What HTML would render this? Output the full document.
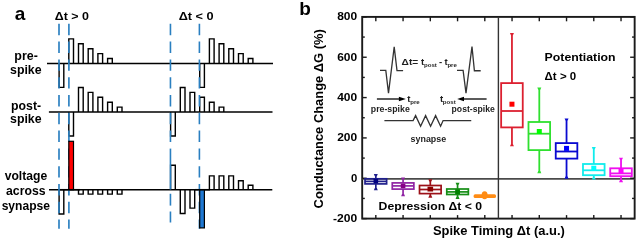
<!DOCTYPE html><html><head><meta charset="utf-8"><style>html,body{margin:0;padding:0;background:#fff;width:637px;height:239px;overflow:hidden}svg{display:block;will-change:transform}text{font-family:"Liberation Sans",sans-serif;font-weight:bold}</style></head><body>
<svg width="637" height="239" viewBox="0 0 637 239">
<text x="14.7" y="19.6" font-size="19" fill="#000" text-anchor="start" >a</text>
<text x="54.8" y="20.25" font-size="11.5" fill="#000" text-anchor="start" textLength="34.2" lengthAdjust="spacingAndGlyphs" >Δt &gt; 0</text>
<text x="178.7" y="19.8" font-size="11.5" fill="#000" text-anchor="start" textLength="35.0" lengthAdjust="spacingAndGlyphs" >Δt &lt; 0</text>
<text x="26.1" y="59.8" font-size="12" fill="#000" text-anchor="middle" textLength="23.5" lengthAdjust="spacingAndGlyphs">pre-</text>
<text x="25.8" y="73.5" font-size="12" fill="#000" text-anchor="middle" textLength="31.5" lengthAdjust="spacingAndGlyphs">spike</text>
<text x="26.1" y="109.8" font-size="12" fill="#000" text-anchor="middle" textLength="30.0" lengthAdjust="spacingAndGlyphs">post-</text>
<text x="25.8" y="122.7" font-size="12" fill="#000" text-anchor="middle" textLength="31.5" lengthAdjust="spacingAndGlyphs">spike</text>
<text x="25.9" y="180.1" font-size="12" fill="#000" text-anchor="middle" textLength="42.5" lengthAdjust="spacingAndGlyphs">voltage</text>
<text x="25.8" y="195.2" font-size="12" fill="#000" text-anchor="middle" textLength="39.5" lengthAdjust="spacingAndGlyphs">across</text>
<text x="25.8" y="209.5" font-size="12" fill="#000" text-anchor="middle" textLength="48.3" lengthAdjust="spacingAndGlyphs">synapse</text>
<path d="M59.10,63.4 V87.40 H63.80 V63.4" fill="none" stroke="#000" stroke-width="1.4"/>
<path d="M68.80,63.4 V38.90 H73.50 V63.4" fill="none" stroke="#000" stroke-width="1.4"/>
<path d="M78.50,63.4 V43.80 H83.20 V63.4" fill="none" stroke="#000" stroke-width="1.4"/>
<path d="M88.20,63.4 V48.70 H92.90 V63.4" fill="none" stroke="#000" stroke-width="1.4"/>
<path d="M97.90,63.4 V53.60 H102.60 V63.4" fill="none" stroke="#000" stroke-width="1.4"/>
<path d="M107.60,63.4 V58.50 H112.30 V63.4" fill="none" stroke="#000" stroke-width="1.4"/>
<path d="M68.80,112.0 V136.00 H73.50 V112.0" fill="none" stroke="#000" stroke-width="1.4"/>
<path d="M78.50,112.0 V87.50 H83.20 V112.0" fill="none" stroke="#000" stroke-width="1.4"/>
<path d="M88.20,112.0 V92.40 H92.90 V112.0" fill="none" stroke="#000" stroke-width="1.4"/>
<path d="M97.90,112.0 V97.30 H102.60 V112.0" fill="none" stroke="#000" stroke-width="1.4"/>
<path d="M107.60,112.0 V102.20 H112.30 V112.0" fill="none" stroke="#000" stroke-width="1.4"/>
<path d="M117.30,112.0 V107.10 H122.00 V112.0" fill="none" stroke="#000" stroke-width="1.4"/>
<path d="M199.70,63.4 V87.40 H204.40 V63.4" fill="none" stroke="#000" stroke-width="1.4"/>
<path d="M209.40,63.4 V38.90 H214.10 V63.4" fill="none" stroke="#000" stroke-width="1.4"/>
<path d="M219.10,63.4 V43.80 H223.80 V63.4" fill="none" stroke="#000" stroke-width="1.4"/>
<path d="M228.80,63.4 V48.70 H233.50 V63.4" fill="none" stroke="#000" stroke-width="1.4"/>
<path d="M238.50,63.4 V53.60 H243.20 V63.4" fill="none" stroke="#000" stroke-width="1.4"/>
<path d="M248.20,63.4 V58.50 H252.90 V63.4" fill="none" stroke="#000" stroke-width="1.4"/>
<path d="M170.60,112.0 V136.00 H175.30 V112.0" fill="none" stroke="#000" stroke-width="1.4"/>
<path d="M180.30,112.0 V87.50 H185.00 V112.0" fill="none" stroke="#000" stroke-width="1.4"/>
<path d="M190.00,112.0 V92.40 H194.70 V112.0" fill="none" stroke="#000" stroke-width="1.4"/>
<path d="M199.70,112.0 V97.30 H204.40 V112.0" fill="none" stroke="#000" stroke-width="1.4"/>
<path d="M209.40,112.0 V102.20 H214.10 V112.0" fill="none" stroke="#000" stroke-width="1.4"/>
<path d="M219.10,112.0 V107.10 H223.80 V112.0" fill="none" stroke="#000" stroke-width="1.4"/>
<path d="M59.10,189.7 V214.00 H63.80 V189.7" fill="none" stroke="#000" stroke-width="1.4"/>
<path d="M78.50,189.7 V194.10 H83.20 V189.7" fill="none" stroke="#000" stroke-width="1.4"/>
<path d="M88.20,189.7 V194.10 H92.90 V189.7" fill="none" stroke="#000" stroke-width="1.4"/>
<path d="M97.90,189.7 V194.10 H102.60 V189.7" fill="none" stroke="#000" stroke-width="1.4"/>
<path d="M107.60,189.7 V194.10 H112.30 V189.7" fill="none" stroke="#000" stroke-width="1.4"/>
<path d="M117.30,189.7 V194.10 H122.00 V189.7" fill="none" stroke="#000" stroke-width="1.4"/>
<path d="M170.60,189.7 V165.20 H175.30 V189.7" fill="none" stroke="#000" stroke-width="1.4"/>
<path d="M180.30,189.7 V213.50 H185.00 V189.7" fill="none" stroke="#000" stroke-width="1.4"/>
<path d="M190.00,189.7 V208.10 H194.70 V189.7" fill="none" stroke="#000" stroke-width="1.4"/>
<path d="M209.40,189.7 V175.90 H214.10 V189.7" fill="none" stroke="#000" stroke-width="1.4"/>
<path d="M219.10,189.7 V175.90 H223.80 V189.7" fill="none" stroke="#000" stroke-width="1.4"/>
<path d="M228.80,189.7 V175.90 H233.50 V189.7" fill="none" stroke="#000" stroke-width="1.4"/>
<path d="M238.50,189.7 V180.70 H243.20 V189.7" fill="none" stroke="#000" stroke-width="1.4"/>
<path d="M248.20,189.7 V185.30 H252.90 V189.7" fill="none" stroke="#000" stroke-width="1.4"/>
<line x1="47" y1="63.4" x2="273" y2="63.4" stroke="#000" stroke-width="1.5"/>
<line x1="48.9" y1="112.0" x2="272.5" y2="112.0" stroke="#000" stroke-width="1.5"/>
<line x1="49" y1="189.7" x2="272.3" y2="189.7" stroke="#000" stroke-width="1.5"/>
<line x1="59.0" y1="23.8" x2="59.0" y2="228.8" stroke="#2a7fc0" stroke-width="1.65" stroke-dasharray="11.4 6.4"/>
<line x1="68.9" y1="23.8" x2="68.9" y2="228.8" stroke="#2a7fc0" stroke-width="1.65" stroke-dasharray="11.4 6.4"/>
<line x1="199.4" y1="23.8" x2="199.4" y2="228.8" stroke="#2a7fc0" stroke-width="1.6" stroke-dasharray="11.4 6.4"/>
<line x1="170.45" y1="23.8" x2="170.45" y2="148.8" stroke="#2a7fc0" stroke-width="1.6" stroke-dasharray="11.4 6.4"/>
<line x1="170.45" y1="148.8" x2="170.45" y2="189.5" stroke="#2a7fc0" stroke-width="1.6"/>
<line x1="170.45" y1="193.75" x2="170.45" y2="205.6" stroke="#2a7fc0" stroke-width="1.6"/>
<line x1="170.45" y1="211.5" x2="170.45" y2="222.5" stroke="#2a7fc0" stroke-width="1.6"/>
<rect x="68.80" y="141.30" width="4.70" height="48.40" fill="#ff0000" stroke="#000" stroke-width="1.2"/>
<rect x="199.70" y="189.70" width="4.70" height="38.20" fill="#1f78d2" stroke="#000" stroke-width="1.2"/>
<line x1="60" y1="189.7" x2="80" y2="189.7" stroke="#000" stroke-width="1.5"/>
<line x1="195" y1="189.7" x2="210" y2="189.7" stroke="#000" stroke-width="1.5"/>
<text x="299.2" y="14.8" font-size="19" fill="#000" text-anchor="start" >b</text>
<text x="357.2" y="20.4" font-size="11.6" fill="#000" text-anchor="end" textLength="20.0" lengthAdjust="spacingAndGlyphs" >800</text>
<text x="357.2" y="60.74" font-size="11.6" fill="#000" text-anchor="end" textLength="20.0" lengthAdjust="spacingAndGlyphs" >600</text>
<text x="357.2" y="101.08000000000001" font-size="11.6" fill="#000" text-anchor="end" textLength="20.0" lengthAdjust="spacingAndGlyphs" >400</text>
<text x="357.2" y="141.42" font-size="11.6" fill="#000" text-anchor="end" textLength="20.0" lengthAdjust="spacingAndGlyphs" >200</text>
<text x="357.2" y="181.76000000000002" font-size="11.6" fill="#000" text-anchor="end" textLength="6.3" lengthAdjust="spacingAndGlyphs" >0</text>
<text x="357.2" y="222.1" font-size="11.6" fill="#000" text-anchor="end" textLength="24.2" lengthAdjust="spacingAndGlyphs" >-200</text>
<text transform="translate(322.8,118.85) rotate(-90)" x="0" y="0" font-size="13" text-anchor="middle" textLength="179.2" lengthAdjust="spacingAndGlyphs">Conductance Change ΔG (%)</text>
<text x="433.0" y="235.1" font-size="13" fill="#000" text-anchor="start" textLength="131.8" lengthAdjust="spacingAndGlyphs" >Spike Timing Δt (a.u.)</text>
<text x="378.6" y="210.1" font-size="11.2" fill="#000" text-anchor="start" textLength="103.5" lengthAdjust="spacingAndGlyphs" >Depression Δt &lt; 0</text>
<text x="544.6" y="60.7" font-size="11.4" fill="#000" text-anchor="start" textLength="71" lengthAdjust="spacingAndGlyphs" >Potentiation</text>
<text x="544.6" y="80.1" font-size="10.9" fill="#000" text-anchor="start" textLength="31.6" lengthAdjust="spacingAndGlyphs" >Δt &gt; 0</text>
<rect x="362.2" y="16.9" width="272.45" height="201.7" fill="none" stroke="#1a1a1a" stroke-width="1.9"/>
<line x1="362.2" y1="178.9" x2="634.65" y2="178.9" stroke="#4a4a4a" stroke-width="1.6"/>
<line x1="498.4" y1="16.9" x2="498.4" y2="218.6" stroke="#333" stroke-width="1.4"/>
<line x1="375.82" y1="16.9" x2="375.82" y2="21.299999999999997" stroke="#1a1a1a" stroke-width="1.4"/>
<line x1="375.82" y1="218.6" x2="375.82" y2="215.1" stroke="#1a1a1a" stroke-width="1.4"/>
<line x1="403.07" y1="16.9" x2="403.07" y2="21.299999999999997" stroke="#1a1a1a" stroke-width="1.4"/>
<line x1="403.07" y1="218.6" x2="403.07" y2="215.1" stroke="#1a1a1a" stroke-width="1.4"/>
<line x1="430.31" y1="16.9" x2="430.31" y2="21.299999999999997" stroke="#1a1a1a" stroke-width="1.4"/>
<line x1="430.31" y1="218.6" x2="430.31" y2="215.1" stroke="#1a1a1a" stroke-width="1.4"/>
<line x1="457.56" y1="16.9" x2="457.56" y2="21.299999999999997" stroke="#1a1a1a" stroke-width="1.4"/>
<line x1="457.56" y1="218.6" x2="457.56" y2="215.1" stroke="#1a1a1a" stroke-width="1.4"/>
<line x1="484.80" y1="16.9" x2="484.80" y2="21.299999999999997" stroke="#1a1a1a" stroke-width="1.4"/>
<line x1="484.80" y1="218.6" x2="484.80" y2="215.1" stroke="#1a1a1a" stroke-width="1.4"/>
<line x1="512.05" y1="16.9" x2="512.05" y2="21.299999999999997" stroke="#1a1a1a" stroke-width="1.4"/>
<line x1="512.05" y1="218.6" x2="512.05" y2="215.1" stroke="#1a1a1a" stroke-width="1.4"/>
<line x1="539.29" y1="16.9" x2="539.29" y2="21.299999999999997" stroke="#1a1a1a" stroke-width="1.4"/>
<line x1="539.29" y1="218.6" x2="539.29" y2="215.1" stroke="#1a1a1a" stroke-width="1.4"/>
<line x1="566.54" y1="16.9" x2="566.54" y2="21.299999999999997" stroke="#1a1a1a" stroke-width="1.4"/>
<line x1="566.54" y1="218.6" x2="566.54" y2="215.1" stroke="#1a1a1a" stroke-width="1.4"/>
<line x1="593.78" y1="16.9" x2="593.78" y2="21.299999999999997" stroke="#1a1a1a" stroke-width="1.4"/>
<line x1="593.78" y1="218.6" x2="593.78" y2="215.1" stroke="#1a1a1a" stroke-width="1.4"/>
<line x1="621.03" y1="16.9" x2="621.03" y2="21.299999999999997" stroke="#1a1a1a" stroke-width="1.4"/>
<line x1="621.03" y1="218.6" x2="621.03" y2="215.1" stroke="#1a1a1a" stroke-width="1.4"/>
<line x1="362.2" y1="218.60" x2="366.7" y2="218.60" stroke="#1a1a1a" stroke-width="1.4"/>
<line x1="634.65" y1="218.60" x2="630.15" y2="218.60" stroke="#1a1a1a" stroke-width="1.4"/>
<line x1="362.2" y1="198.43" x2="364.8" y2="198.43" stroke="#1a1a1a" stroke-width="1.4"/>
<line x1="634.65" y1="198.43" x2="632.05" y2="198.43" stroke="#1a1a1a" stroke-width="1.4"/>
<line x1="362.2" y1="178.26" x2="366.7" y2="178.26" stroke="#1a1a1a" stroke-width="1.4"/>
<line x1="634.65" y1="178.26" x2="630.15" y2="178.26" stroke="#1a1a1a" stroke-width="1.4"/>
<line x1="362.2" y1="158.09" x2="364.8" y2="158.09" stroke="#1a1a1a" stroke-width="1.4"/>
<line x1="634.65" y1="158.09" x2="632.05" y2="158.09" stroke="#1a1a1a" stroke-width="1.4"/>
<line x1="362.2" y1="137.92" x2="366.7" y2="137.92" stroke="#1a1a1a" stroke-width="1.4"/>
<line x1="634.65" y1="137.92" x2="630.15" y2="137.92" stroke="#1a1a1a" stroke-width="1.4"/>
<line x1="362.2" y1="117.75" x2="364.8" y2="117.75" stroke="#1a1a1a" stroke-width="1.4"/>
<line x1="634.65" y1="117.75" x2="632.05" y2="117.75" stroke="#1a1a1a" stroke-width="1.4"/>
<line x1="362.2" y1="97.58" x2="366.7" y2="97.58" stroke="#1a1a1a" stroke-width="1.4"/>
<line x1="634.65" y1="97.58" x2="630.15" y2="97.58" stroke="#1a1a1a" stroke-width="1.4"/>
<line x1="362.2" y1="77.41" x2="364.8" y2="77.41" stroke="#1a1a1a" stroke-width="1.4"/>
<line x1="634.65" y1="77.41" x2="632.05" y2="77.41" stroke="#1a1a1a" stroke-width="1.4"/>
<line x1="362.2" y1="57.24" x2="366.7" y2="57.24" stroke="#1a1a1a" stroke-width="1.4"/>
<line x1="634.65" y1="57.24" x2="630.15" y2="57.24" stroke="#1a1a1a" stroke-width="1.4"/>
<line x1="362.2" y1="37.07" x2="364.8" y2="37.07" stroke="#1a1a1a" stroke-width="1.4"/>
<line x1="634.65" y1="37.07" x2="632.05" y2="37.07" stroke="#1a1a1a" stroke-width="1.4"/>
<line x1="362.2" y1="16.90" x2="366.7" y2="16.90" stroke="#1a1a1a" stroke-width="1.4"/>
<line x1="634.65" y1="16.90" x2="630.15" y2="16.90" stroke="#1a1a1a" stroke-width="1.4"/>
<g stroke="#dc2030" stroke-width="1.8" fill="none">
<line x1="511.9475" y1="33.8" x2="511.9475" y2="83.1"/>
<line x1="511.9475" y1="127.4" x2="511.9475" y2="145.6"/>
<rect x="501.1475" y="83.1" width="21.6" height="44.30000000000001"/>
<line x1="501.1475" y1="111.0" x2="522.7475" y2="111.0"/>
</g>
<path d="M509.9475,33.099999999999994 H513.9475 L512.9475,35.199999999999996 H510.9475 Z" fill="#dc2030"/>
<path d="M509.9475,146.29999999999998 H513.9475 L512.9475,144.2 H510.9475 Z" fill="#dc2030"/>
<rect x="509.4475" y="101.7" width="5.0" height="5.0" fill="#ff0000"/>
<g stroke="#30e030" stroke-width="1.8" fill="none">
<line x1="539.2925" y1="88.3" x2="539.2925" y2="122.0"/>
<line x1="539.2925" y1="150.1" x2="539.2925" y2="172.5"/>
<rect x="528.4925000000001" y="122.0" width="21.6" height="28.099999999999994"/>
<line x1="528.4925000000001" y1="133.7" x2="550.0925" y2="133.7"/>
</g>
<path d="M537.2925,87.6 H541.2925 L540.2925,89.7 H538.2925 Z" fill="#30e030"/>
<path d="M537.2925,173.2 H541.2925 L540.2925,171.1 H538.2925 Z" fill="#30e030"/>
<rect x="536.7925" y="129.0" width="5.0" height="5.0" fill="#00ff00"/>
<g stroke="#0a0ad0" stroke-width="1.8" fill="none">
<line x1="566.5374999999999" y1="119.2" x2="566.5374999999999" y2="143.1"/>
<line x1="566.5374999999999" y1="158.6" x2="566.5374999999999" y2="178.0"/>
<rect x="555.7375" y="143.1" width="21.6" height="15.5"/>
<line x1="555.7375" y1="151.5" x2="577.3374999999999" y2="151.5"/>
</g>
<path d="M564.5374999999999,118.5 H568.5374999999999 L567.5374999999999,120.60000000000001 H565.5374999999999 Z" fill="#0a0ad0"/>
<path d="M564.5374999999999,178.7 H568.5374999999999 L567.5374999999999,176.6 H565.5374999999999 Z" fill="#0a0ad0"/>
<rect x="564.0374999999999" y="145.9" width="5.0" height="5.0" fill="#0000ff"/>
<g stroke="#10ecec" stroke-width="1.8" fill="none">
<line x1="593.7825" y1="147.8" x2="593.7825" y2="164.0"/>
<line x1="593.7825" y1="175.2" x2="593.7825" y2="178.8"/>
<rect x="582.9825000000001" y="164.0" width="21.6" height="11.199999999999989"/>
<line x1="582.9825000000001" y1="170.3" x2="604.5825" y2="170.3"/>
</g>
<path d="M591.7825,147.10000000000002 H595.7825 L594.7825,149.20000000000002 H592.7825 Z" fill="#10ecec"/>
<path d="M591.7825,179.5 H595.7825 L594.7825,177.4 H592.7825 Z" fill="#10ecec"/>
<rect x="591.2825" y="165.7" width="5.0" height="5.0" fill="#00ffff"/>
<g stroke="#ee10ee" stroke-width="1.8" fill="none">
<line x1="621.0274999999999" y1="158.4" x2="621.0274999999999" y2="168.3"/>
<line x1="621.0274999999999" y1="176.2" x2="621.0274999999999" y2="181.5"/>
<rect x="610.2275" y="168.3" width="21.6" height="7.899999999999977"/>
<line x1="610.2275" y1="173.4" x2="631.8274999999999" y2="173.4"/>
</g>
<path d="M619.0274999999999,157.70000000000002 H623.0274999999999 L622.0274999999999,159.8 H620.0274999999999 Z" fill="#ee10ee"/>
<path d="M619.0274999999999,182.2 H623.0274999999999 L622.0274999999999,180.1 H620.0274999999999 Z" fill="#ee10ee"/>
<rect x="618.5274999999999" y="168.4" width="5.0" height="5.0" fill="#ff00ff"/>
<g stroke="#20208c" stroke-width="1.7" fill="none">
<line x1="375.8225" y1="174.8" x2="375.8225" y2="178.8"/>
<line x1="375.8225" y1="183.9" x2="375.8225" y2="189.5"/>
<rect x="365.0225" y="178.8" width="21.6" height="5.099999999999994"/>
<line x1="365.0225" y1="181.4" x2="386.6225" y2="181.4"/>
</g>
<path d="M373.8225,174.10000000000002 H377.8225 L376.8225,176.20000000000002 H374.8225 Z" fill="#20208c"/>
<path d="M373.8225,190.2 H377.8225 L376.8225,188.1 H374.8225 Z" fill="#20208c"/>
<rect x="373.5225" y="178.79999999999998" width="4.6" height="4.6" fill="#000080"/>
<g stroke="#9024a4" stroke-width="1.7" fill="none">
<line x1="403.0675" y1="178.2" x2="403.0675" y2="182.9"/>
<line x1="403.0675" y1="189.1" x2="403.0675" y2="195.5"/>
<rect x="392.2675" y="182.9" width="21.6" height="6.199999999999989"/>
<line x1="392.2675" y1="185.9" x2="413.8675" y2="185.9"/>
</g>
<path d="M401.0675,177.5 H405.0675 L404.0675,179.6 H402.0675 Z" fill="#9024a4"/>
<path d="M401.0675,196.2 H405.0675 L404.0675,194.1 H402.0675 Z" fill="#9024a4"/>
<rect x="400.7675" y="183.6" width="4.6" height="4.6" fill="#880088"/>
<g stroke="#9c1018" stroke-width="1.7" fill="none">
<line x1="430.3125" y1="180.0" x2="430.3125" y2="185.5"/>
<line x1="430.3125" y1="193.6" x2="430.3125" y2="197.0"/>
<rect x="419.5125" y="185.5" width="21.6" height="8.099999999999994"/>
<line x1="419.5125" y1="189.5" x2="441.1125" y2="189.5"/>
</g>
<path d="M428.3125,179.3 H432.3125 L431.3125,181.4 H429.3125 Z" fill="#9c1018"/>
<path d="M428.3125,197.7 H432.3125 L431.3125,195.6 H429.3125 Z" fill="#9c1018"/>
<rect x="427.5125" y="186.7" width="5.6" height="4.8" fill="#8b0000"/>
<g stroke="#168e16" stroke-width="1.7" fill="none">
<line x1="457.5575" y1="183.4" x2="457.5575" y2="189.0"/>
<line x1="457.5575" y1="194.5" x2="457.5575" y2="198.2"/>
<rect x="446.7575" y="189.0" width="21.6" height="5.5"/>
<line x1="446.7575" y1="191.9" x2="468.3575" y2="191.9"/>
</g>
<path d="M455.5575,182.70000000000002 H459.5575 L458.5575,184.8 H456.5575 Z" fill="#168e16"/>
<path d="M455.5575,198.89999999999998 H459.5575 L458.5575,196.79999999999998 H456.5575 Z" fill="#168e16"/>
<rect x="455.1575" y="189.29999999999998" width="4.8" height="4.8" fill="#008000"/>
<rect x="473.6025" y="194.2" width="22.4" height="3.8" rx="1.5" fill="#ff8c14"/>
<ellipse cx="484.6025" cy="195.3" rx="3.0" ry="4.0" fill="#ff8c14"/>
<path d="M380,70.3 H385.8 L388.5,93.1 L394.2,46.9 L397,70.6 H403.1" fill="none" stroke="#333" stroke-width="1.3" stroke-linejoin="miter"/>
<path d="M457,70.3 H463.1 L466,93.1 L472,46.6 L474.4,70.75 H480.7" fill="none" stroke="#333" stroke-width="1.3"/>
<text x="401.6" y="64.6" font-size="9.6" fill="#1e1e1e" text-anchor="start" textLength="16.6" lengthAdjust="spacingAndGlyphs" >Δt=</text>
<text x="421.0" y="64.6" font-size="9.6" fill="#1e1e1e" text-anchor="start" >t</text>
<text x="424.0" y="66.7" font-size="6.1" fill="#1e1e1e" text-anchor="start" >post</text>
<text x="438.9" y="64.6" font-size="9.6" fill="#1e1e1e" text-anchor="start" >-</text>
<text x="444.4" y="64.6" font-size="9.6" fill="#1e1e1e" text-anchor="start" >t</text>
<text x="447.4" y="66.7" font-size="6.1" fill="#1e1e1e" text-anchor="start" >pre</text>
<line x1="376.9" y1="99" x2="400" y2="99" stroke="#333" stroke-width="1.6"/>
<path d="M398.9,96.8 L405.8,99 L398.9,101.2 Z" fill="#000"/>
<text x="407.3" y="101.8" font-size="9.6" fill="#1e1e1e" text-anchor="start" >t</text>
<text x="410.2" y="103.6" font-size="6.1" fill="#1e1e1e" text-anchor="start" >pre</text>
<line x1="463" y1="99" x2="486.6" y2="99" stroke="#333" stroke-width="1.6"/>
<path d="M464.0,96.8 L457.2,99 L464.0,101.2 Z" fill="#000"/>
<text x="439.9" y="101.8" font-size="9.6" fill="#1e1e1e" text-anchor="start" >t</text>
<text x="442.8" y="103.6" font-size="6.1" fill="#1e1e1e" text-anchor="start" >post</text>
<text x="370.8" y="111.8" font-size="9" fill="#1e1e1e" text-anchor="start" textLength="39.0" lengthAdjust="spacingAndGlyphs" >pre-spike</text>
<text x="451.6" y="111.8" font-size="9" fill="#1e1e1e" text-anchor="start" textLength="43.2" lengthAdjust="spacingAndGlyphs" >post-spike</text>
<path d="M384.4,120.6 H413.1 L415.6,115.6 L420.6,126.25 L425.6,115.6 L430.6,126.25 L435.6,115.6 L440.6,126.25 L443.1,120.6 H471.25" fill="none" stroke="#333" stroke-width="1.3"/>
<text x="410.6" y="141.6" font-size="9" fill="#1e1e1e" text-anchor="start" textLength="35.6" lengthAdjust="spacingAndGlyphs" >synapse</text>
</svg></body></html>
